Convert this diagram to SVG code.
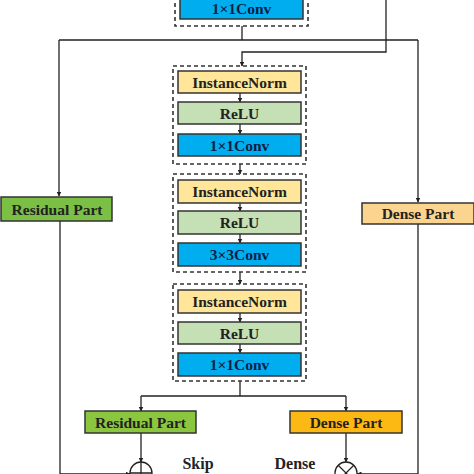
<svg xmlns="http://www.w3.org/2000/svg" width="474" height="474" viewBox="0 0 474 474">
<defs>
<marker id="ah" viewBox="0 0 10 10" refX="9" refY="5" markerWidth="5" markerHeight="5" orient="auto" markerUnits="userSpaceOnUse">
<path d="M0,0 L10,5 L0,10 z" fill="#222"/>
</marker>
<style>
.b{stroke:#333;stroke-width:1.5}
.in{fill:#ffe699}
.re{fill:#c5e0b4}
.cv{fill:#00aeef}
.dash{fill:none;stroke:#333;stroke-width:1.6;stroke-dasharray:4 3}
.t{font-family:"Liberation Serif","Times New Roman",serif;font-weight:bold;font-size:15.5px;text-anchor:middle;fill:#222}
.tc{fill:#0d1d45}
.c{fill:none;stroke:#222;stroke-width:1.3}
</style>
</defs>
<rect width="474" height="474" fill="#fff"/>
<g id="connectors" class="c">
<path d="M242,26 V40 M59,40 H418"/>
<path d="M59,40 V196" marker-end="url(#ah)"/>
<path d="M418,40 V202" marker-end="url(#ah)"/>
<path d="M386,0 V52 H242 V66" marker-end="url(#ah)"/>
<path d="M240,93 V102" marker-end="url(#ah)"/>
<path d="M240,124 V134" marker-end="url(#ah)"/>
<path d="M240,164 V174" marker-end="url(#ah)"/>
<path d="M240,203 V211" marker-end="url(#ah)"/>
<path d="M240,234 V243" marker-end="url(#ah)"/>
<path d="M240,272 V284" marker-end="url(#ah)"/>
<path d="M240,313 V322" marker-end="url(#ah)"/>
<path d="M240,344 V353" marker-end="url(#ah)"/>
<path d="M60,221 V474"/>
<path d="M418,224 V474"/>
<path d="M240,381 V396 M141,396 H346"/>
<path d="M141,396 V411" marker-end="url(#ah)"/>
<path d="M346,396 V411" marker-end="url(#ah)"/>
<path d="M141,433 V462" marker-end="url(#ah)"/>
<path d="M346,433 V462" marker-end="url(#ah)"/>
<path d="M60,474 H130" marker-end="url(#ah)"/>
<path d="M418,474 H357" marker-end="url(#ah)"/>
</g>
<g id="block1">
<rect class="dash" x="175" y="-4" width="133" height="30"/>
<rect class="b cv" x="180" y="-4" width="123" height="23"/>
<text class="t tc" x="241.5" y="14">1×1Conv</text>
</g>
<g id="block2">
<rect class="dash" x="173" y="66" width="133" height="98"/>
<rect class="b in" x="178" y="71" width="123" height="22"/>
<text class="t" x="239.5" y="87.5">InstanceNorm</text>
<rect class="b re" x="178" y="102" width="123" height="22"/>
<text class="t" x="239.5" y="118.5">ReLU</text>
<rect class="b cv" x="178" y="134" width="123" height="22"/>
<text class="t tc" x="239.5" y="150.5">1×1Conv</text>
</g>
<g id="block3">
<rect class="dash" x="173" y="174" width="133" height="98"/>
<rect class="b in" x="178" y="180" width="123" height="23"/>
<text class="t" x="239.5" y="196.5">InstanceNorm</text>
<rect class="b re" x="178" y="211" width="123" height="23"/>
<text class="t" x="239.5" y="227.5">ReLU</text>
<rect class="b cv" x="178" y="243" width="123" height="23"/>
<text class="t tc" x="239.5" y="259.5">3×3Conv</text>
</g>
<g id="block4">
<rect class="dash" x="173" y="284" width="133" height="97"/>
<rect class="b in" x="178" y="290" width="123" height="23"/>
<text class="t" x="239.5" y="306.5">InstanceNorm</text>
<rect class="b re" x="178" y="322" width="123" height="22"/>
<text class="t" x="239.5" y="338.5">ReLU</text>
<rect class="b cv" x="178" y="353" width="123" height="23"/>
<text class="t tc" x="239.5" y="369.5">1×1Conv</text>
</g>
<g id="residual-top">
<rect class="b" x="1" y="197" width="111" height="24" fill="#7bbf45"/>
<text class="t" x="57" y="214.5" fill="#1e2e12">Residual Part</text>
</g>
<g id="dense-top">
<rect class="b" x="362" y="203" width="112" height="21" fill="#fbd58f"/>
<text class="t" x="418" y="219">Dense Part</text>
</g>
<g id="residual-bottom">
<rect class="b" x="85" y="411" width="111" height="22" fill="#8cc63f"/>
<text class="t" x="140.5" y="427.5">Residual Part</text>
</g>
<g id="dense-bottom">
<rect class="b" x="290" y="411" width="112" height="22" fill="#fdb913"/>
<text class="t" x="346" y="427.5">Dense Part</text>
</g>
<g id="skip-add">
<circle cx="141" cy="473" r="11" fill="#fff" stroke="#222" stroke-width="1.3"/>
<path d="M141,462 V484 M130,473 H152" stroke="#222" stroke-width="1.3"/>
</g>
<g id="dense-mul">
<circle cx="346" cy="473" r="11" fill="#fff" stroke="#222" stroke-width="1.3"/>
<path d="M338.2,465.2 L353.8,480.8 M353.8,465.2 L338.2,480.8" stroke="#222" stroke-width="1.3"/>
</g>
<text class="t" x="198" y="469" style="font-size:16px">Skip</text>
<text class="t" x="295" y="469" style="font-size:16px">Dense</text>
</svg>
